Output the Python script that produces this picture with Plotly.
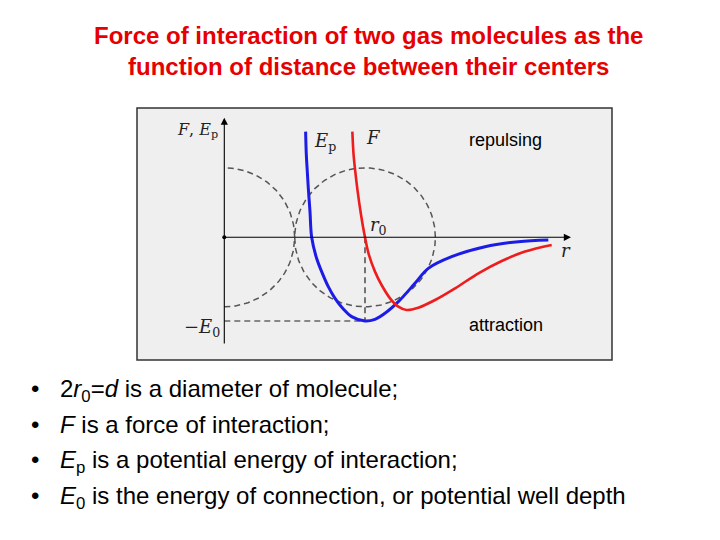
"""Force of interaction of two gas molecules vs. distance between their centers"""

import numpy as np
import plotly.graph_objs as go

W, H = 720, 540
PAGE_MARGIN = 8  # body margin of the html page

# distance r in units of r0, energy/force in units of E0
r0 = 1.0
E0 = 1.0

# potential energy Ep(r)
r_ep = [0.578, 0.583, 0.590, 0.597, 0.609, 0.621, 0.656, 0.692, 0.739, 0.787,
        0.846, 0.905, 1.000, 1.071, 1.142, 1.237, 1.355, 1.450, 1.616, 1.853,
        2.090, 2.303]
ep = [1.263, 0.984, 0.785, 0.586, 0.307, 0.000, -0.251, -0.410, -0.590, -0.729,
      -0.857, -0.948, -1.000, -0.980, -0.908, -0.769, -0.550, -0.371, -0.231, -0.112,
      -0.052, -0.032]

# force F(r)
r_f = [0.910, 0.919, 0.931, 0.948, 0.972, 1.000, 1.028, 1.071, 1.118, 1.178,
       1.237, 1.296, 1.379, 1.498, 1.640, 1.806, 1.972, 2.137, 2.327]
f = [1.263, 0.984, 0.785, 0.546, 0.267, 0.000, -0.211, -0.410, -0.570, -0.729,
     -0.829, -0.869, -0.841, -0.749, -0.610, -0.430, -0.283, -0.171, -0.092]

# the two molecules drawn as dashed circles (centres at 0 and r0)
circle_centers = [0.0, r0]
circle_rx = 0.5
circle_ry = 0.83

bullets = [
    "2<i>r</i><sub>0</sub>=<i>d</i> is a diameter of molecule;",
    "<i>F</i> is a force of interaction;",
    "<i>E</i><sub>p</sub> is a potential energy of interaction;",
    "<i>E</i><sub>0</sub> is the energy of connection, or potential well depth",
]
bullet_baselines = [395, 431, 466, 502]

title = "Force of interaction of two gas molecules as the<br>function of distance between their centers"


def px(x):
    return (x - PAGE_MARGIN) / W


def py(y):
    return 1 - (y - PAGE_MARGIN) / H


# diagram box in pixels
box = dict(left=137, right=612, top=108, bottom=360)
# origin of the axes and scale, pixels
ox, oy, sx, sy = 224.3, 237.3, 140.7, 83.7

x_range = [(box["left"] - ox) / sx, (box["right"] - ox) / sx]
y_range = [(oy - box["bottom"]) / sy, (oy - box["top"]) / sy]

fig = go.Figure()

dash_gray = dict(color="#555555", width=1.5, dash="6px,4px")

# left molecule: only the right half is visible
t = np.linspace(-np.pi / 2, np.pi / 2, 120)
fig.add_trace(go.Scatter(x=circle_centers[0] + circle_rx * np.cos(t),
                         y=circle_ry * np.sin(t), mode="lines", line=dash_gray))
t = np.linspace(0, 2 * np.pi, 240)
fig.add_trace(go.Scatter(x=circle_centers[1] + circle_rx * np.cos(t),
                         y=circle_ry * np.sin(t), mode="lines", line=dash_gray))

# guides to -E0 and r0
dash_black = dict(color="#222222", width=1.2, dash="6px,4px")
fig.add_trace(go.Scatter(x=[0, r0], y=[-E0, -E0], mode="lines", line=dash_black))
fig.add_trace(go.Scatter(x=[r0, r0], y=[0, -E0], mode="lines", line=dash_black))

# curves
fig.add_trace(go.Scatter(x=r_ep, y=ep, mode="lines",
                         line=dict(color="#1c1ce6", width=3, shape="spline")))
fig.add_trace(go.Scatter(x=r_f, y=f, mode="lines",
                         line=dict(color="#ee1c1c", width=2.6, shape="spline")))

# origin dot
fig.add_trace(go.Scatter(x=[0], y=[0], mode="markers",
                         marker=dict(color="black", size=4)))

annotations = []

# axes with arrows
r_axis_max = 2.464
f_axis_min, f_axis_max = -1.287, 1.429
for head, tail in [((r_axis_max, 0), (0, 0)), ((0, f_axis_max), (0, f_axis_min))]:
    annotations.append(dict(x=head[0], y=head[1], ax=tail[0], ay=tail[1],
                            xref="x", yref="y", axref="x", ayref="y", text="",
                            showarrow=True, arrowhead=2, arrowsize=1.3,
                            arrowwidth=1.1, arrowcolor="black", standoff=0))

math_font = dict(family="DejaVu Serif", size=17, color="#222222")
labels = [
    ("<i>F</i>, <i>E</i><sub>p</sub>", 175, 131, "left", 16),
    ("<i>E</i><sub>p</sub>", 312, 142, "left", 18),
    ("<i>F</i>", 364, 138, "left", 18),
    ("<i>r</i><sub>0</sub>", 368, 226, "left", 18),
    ("<i>r</i>", 566, 251, "center", 18),
    ("−<i>E</i><sub>0</sub>", 222, 328, "right", 18),
]
for text, x, y, anchor, size in labels:
    annotations.append(dict(x=px(x), y=py(y), xref="paper", yref="paper",
                            text=text, showarrow=False, xanchor=anchor,
                            yanchor="middle",
                            font=dict(math_font, size=size)))

for text, y in [("repulsing", 140), ("attraction", 325)]:
    annotations.append(dict(x=px(467), y=py(y), xref="paper", yref="paper",
                            text=text, showarrow=False, xanchor="left",
                            yanchor="middle",
                            font=dict(family="Liberation Sans", size=18, color="black")))

# title
annotations.append(dict(x=px(368), y=py(20), xref="paper", yref="paper",
                        text="<b>" + title + "</b>", showarrow=False,
                        xanchor="center", yanchor="top", align="center",
                        font=dict(family="Liberation Sans", size=24, color="#e60000")))

# bullet list
for text, base in zip(bullets, bullet_baselines):
    top = base - 22
    annotations.append(dict(x=px(29), y=py(top), xref="paper", yref="paper",
                            text="•", showarrow=False, xanchor="left", yanchor="top",
                            font=dict(family="Liberation Sans", size=24, color="black")))
    annotations.append(dict(x=px(58), y=py(top), xref="paper", yref="paper",
                            text=text, showarrow=False, xanchor="left", yanchor="top",
                            font=dict(family="Liberation Sans", size=24, color="black")))

fig.update_layout(
    width=W, height=H,
    margin=dict(l=0, r=0, t=0, b=0),
    paper_bgcolor="white",
    plot_bgcolor="#efefef",
    showlegend=False,
    xaxis=dict(domain=[px(box["left"]), px(box["right"])], range=x_range,
               visible=False, fixedrange=True),
    yaxis=dict(domain=[py(box["bottom"]), py(box["top"])], range=y_range,
               visible=False, fixedrange=True),
    annotations=annotations,
    shapes=[dict(type="rect", xref="paper", yref="paper",
                 x0=px(box["left"]), x1=px(box["right"]),
                 y0=py(box["bottom"]), y1=py(box["top"]),
                 line=dict(color="#333333", width=1.5))],
)
fig.update_traces(hoverinfo="skip")

fig.write_html("out.html")
